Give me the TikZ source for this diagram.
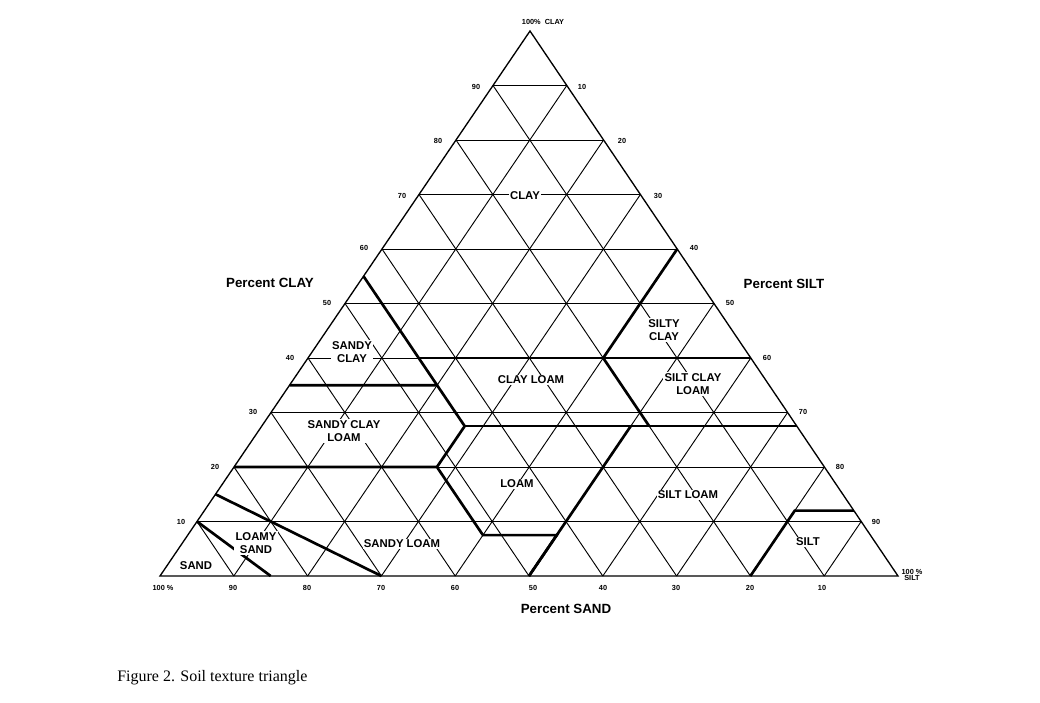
\documentclass[tikz,border=0pt]{standalone}
\usepackage{fontspec}
\setmainfont{Liberation Sans}
\newfontfamily\capfont{Liberation Serif}
\pgfkeys{/tern/s/.store in=\ternS,/tern/c/.store in=\ternC,/tern/s=0,/tern/c=0}
\tikzdeclarecoordinatesystem{tern}{%
  \pgfkeys{/tern/.cd,#1}%
  \pgfmathsetmacro\ternX{160+7.38*(100-\ternS-\ternC)+3.70*\ternC}%
  \pgfmathsetmacro\ternY{576-5.45*\ternC}%
  \pgfpoint{0.75*\ternX pt}{-0.75*\ternY pt}}
\begin{document}
\begin{tikzpicture}[x=0.75pt,y=-0.75pt,
  grid/.style={line width=0.7pt},
  bnd/.style={line width=2pt},
  lab/.style={font=\bfseries\fontsize{8.5}{9.5}\selectfont,fill=white,inner sep=1pt,align=center},
  tick/.style={font=\bfseries\fontsize{5.5}{6}\selectfont,inner sep=0pt},
  ttl/.style={font=\bfseries\fontsize{10}{11}\selectfont,inner sep=0pt}]
\useasboundingbox (0,0) rectangle (1040,703);
\coordinate (L) at (160,576);
\coordinate (R) at (898,576);
\coordinate (T) at (530,31);
\foreach \k in {10,20,...,90}{
  \pgfmathtruncatemacro\m{100-\k}
  \draw[grid] (tern cs:s=\m,c=\k) -- (tern cs:s=0,c=\k);
  \draw[grid] (tern cs:s=\k,c=0) -- (tern cs:s=\k,c=\m);
  \draw[grid] (tern cs:s=\m,c=0) -- (tern cs:s=0,c=\m);
}
\draw[grid,line width=1pt] (L) -- (R) -- (T) -- cycle;
% boundaries
\draw[bnd] (tern cs:s=85,c=0) -- (tern cs:s=90,c=10);
\draw[bnd] (tern cs:s=70,c=0) -- (tern cs:s=85,c=15);
\draw[bnd] (tern cs:s=80,c=20) -- (tern cs:s=52.5,c=20) -- (tern cs:s=52.5,c=7.5) -- (tern cs:s=42.5,c=7.5) -- (tern cs:s=50,c=0);
\draw[bnd] (tern cs:s=65,c=35) -- (tern cs:s=45,c=35) -- (tern cs:s=45,c=27.5) -- (tern cs:s=52.5,c=20);
\draw[bnd] (tern cs:s=45,c=55) -- (tern cs:s=45,c=35);
\draw[bnd] (tern cs:s=45,c=40) -- (tern cs:s=0,c=40);
\draw[bnd] (tern cs:s=45,c=27.5) -- (tern cs:s=0,c=27.5);
\draw[bnd] (tern cs:s=20,c=40) -- (tern cs:s=20,c=27.5);
\draw[bnd] (tern cs:s=20,c=40) -- (tern cs:s=0,c=60);
\draw[bnd] (tern cs:s=50,c=0) -- (tern cs:s=22.5,c=27.5);
\draw[bnd] (tern cs:s=20,c=0) -- (tern cs:s=8,c=12) -- (tern cs:s=0,c=12);
% texture labels
\node[lab] (clay) at (525,196) {CLAY};
\node[lab] (sc) at (352,352) {SANDY\\CLAY};
\node[lab] (syc) at (664,330) {SILTY\\CLAY};
\node[lab] (cl) at (531,380) {CLAY LOAM};
\node[lab] (sicl) at (693,384) {SILT CLAY\\LOAM};
\node[lab] (scl) at (344,431) {SANDY CLAY\\LOAM};
\node[lab] (loam) at (517,484) {LOAM};
\node[lab] (sil) at (688,495) {SILT LOAM};
\node[lab] (ls) at (256,543) {LOAMY\\SAND};
\node[lab] (sl) at (402,544) {SANDY LOAM};
\node[lab] (sand) at (196,566) {SAND};
\node[lab] (silt) at (808,542) {SILT};
% axis titles
\node[ttl] (pc) at (270,283) {Percent CLAY};
\node[ttl] (ps) at (784,284) {Percent SILT};
\node[ttl] (psa) at (566,609) {Percent SAND};
% ticks
\node[tick] at (543,22) {100\%\ \ CLAY};
\node[tick] at (163,588) {100 \%};
\node[tick,align=center] at (912,575) {100 \%\\[-1pt]SILT};
\foreach \v/\x in {90/233,80/307,70/381,60/455,50/533,40/603,30/676,20/750,10/822}
  \node[tick] at (\x,588) {\v};
\foreach \v/\x/\y in {10/181/522,20/215/467,30/253/412,40/290/358,50/327/303,60/364/248,70/402/196,80/438/141,90/476/87}
  \node[tick] at (\x,\y) {\v};
\foreach \v/\x/\y in {10/582/87,20/622/141,30/658/196,40/694/248,50/730/303,60/767/358,70/803/412,80/840/467,90/876/522}
  \node[tick] at (\x,\y) {\v};
\node[anchor=west,inner sep=0pt,font=\capfont\fontsize{12}{14}\selectfont] (cap) at (117,678) {Figure 2. Soil texture triangle};
\end{tikzpicture}
\end{document}
